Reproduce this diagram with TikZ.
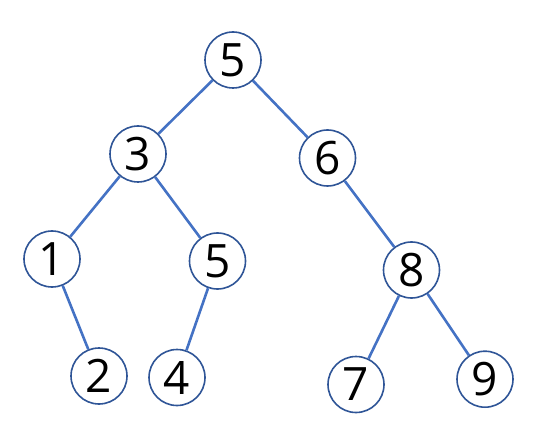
\documentclass[tikz,border=0pt]{standalone}
\usepackage{fontspec}
\setmainfont{Open Sans}
\begin{document}
\begin{tikzpicture}[x=1pt,y=1pt,
  tnode/.style={circle,draw=nodeblue,line width=1.6pt,fill=white,minimum size=56pt,inner sep=0pt,font=\fontsize{46}{46}\selectfont},
  edge/.style={draw=lineblue,line width=2.6pt}]
\definecolor{nodeblue}{HTML}{2F5597}
\definecolor{lineblue}{HTML}{4472C4}
\useasboundingbox (0,0) rectangle (535,434);
\node[tnode] (n5) at (233,374) {5};
\node[tnode] (n3) at (138,280) {3};
\node[tnode] (n6) at (327.5,276) {6};
\node[tnode] (n1) at (52,175) {1};
\node[tnode] (n5b) at (217.5,173) {5};
\node[tnode] (n8) at (411.5,164) {8};
\node[tnode] (n2) at (99,58) {2};
\node[tnode] (n4) at (177,56.5) {4};
\node[tnode] (n7) at (356,49.5) {7};
\node[tnode] (n9) at (485,54.8) {9};
\draw[edge] (n5) -- (n3);
\draw[edge] (n5) -- (n6);
\draw[edge] (n3) -- (n1);
\draw[edge] (n3) -- (n5b);
\draw[edge] (n6) -- (n8);
\draw[edge] (n1) -- (n2);
\draw[edge] (n5b) -- (n4);
\draw[edge] (n8) -- (n7);
\draw[edge] (n8) -- (n9);
\end{tikzpicture}
\end{document}
